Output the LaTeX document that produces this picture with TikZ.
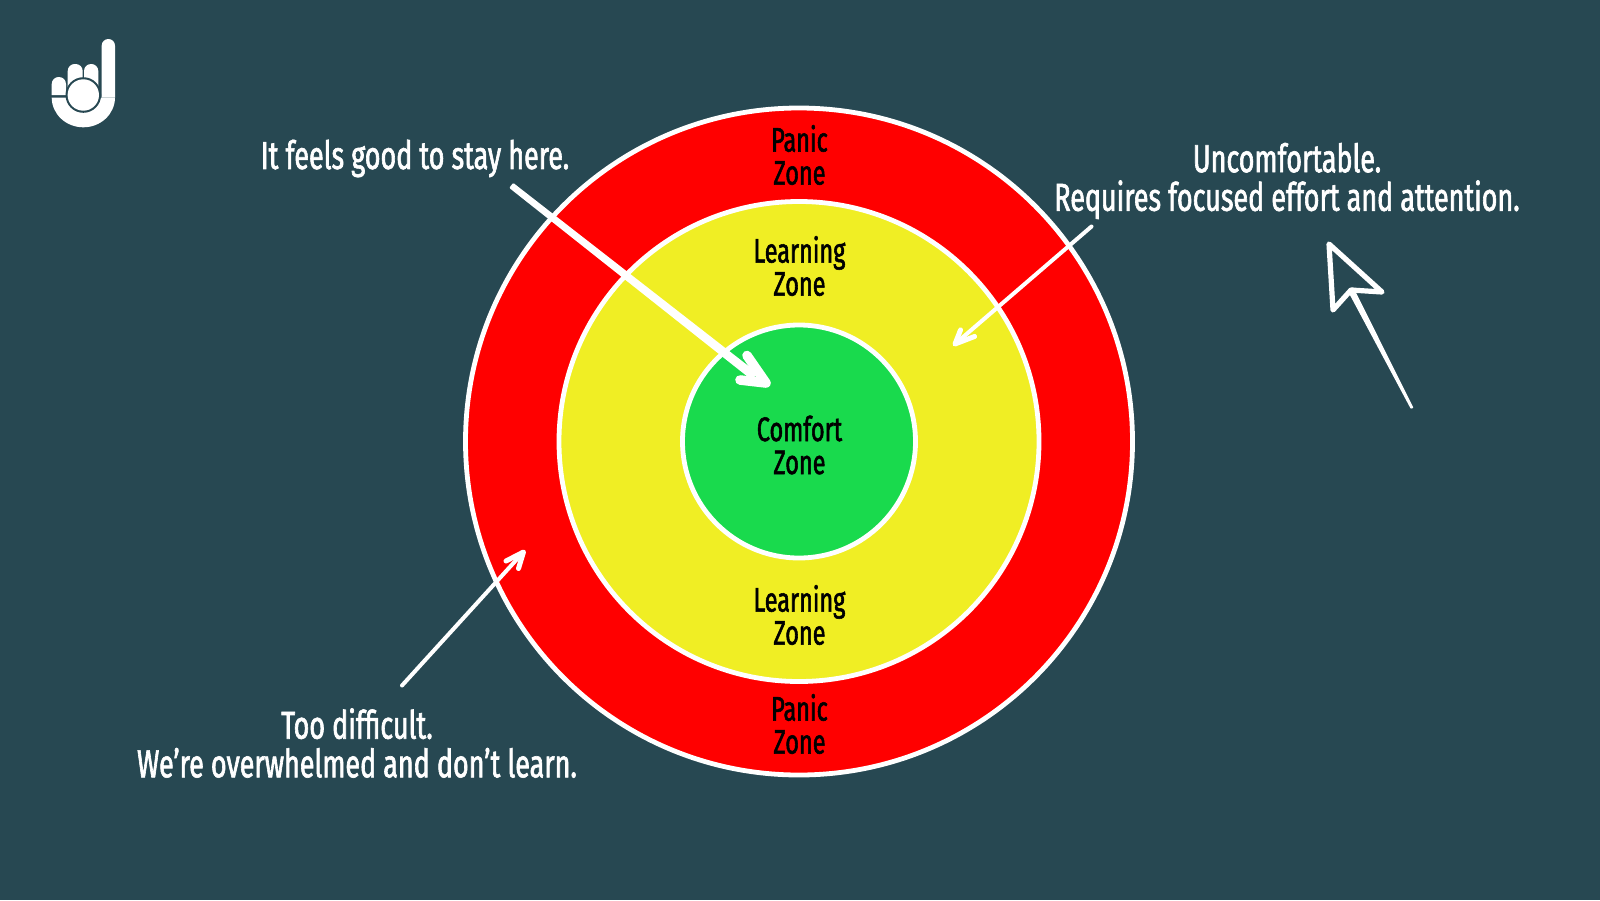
\documentclass[tikz,border=0pt]{standalone}
\usepackage{fontspec}
\setmainfont[FakeStretch=0.69,FakeBold=1.6]{Fira Sans}
\definecolor{bgteal}{HTML}{274852}
\definecolor{zonered}{HTML}{FF0000}
\definecolor{zoneyellow}{HTML}{F0EE24}
\definecolor{zonegreen}{HTML}{19DA4D}
\tikzset{
  zone/.style={circle,draw=white,line width=2.4pt,inner sep=0pt,minimum size=#1},
  zonetext/.style={text=black,align=center,font=\fontsize{17}{16.5}\selectfont,inner sep=0pt},
  note/.style={text=white,align=center,font=\fontsize{19.5}{19.3}\selectfont,inner sep=0pt},
  thinarrow/.style={draw=white,line width=2pt,line cap=round,line join=round},
  barbs/.style={draw=white,line width=2.5pt,line cap=round,line join=round},
  bigarrow/.style={draw=white,line width=4.8pt,line cap=round,line join=round},
  taper/.style={fill=white,draw=white,line width=1pt,line join=round},
  logowhite/.style={fill=white,draw=none}
}
\begin{document}
\begin{tikzpicture}[x=0.5pt,y=-0.5pt]
\useasboundingbox (0,0) rectangle (1600,900);
\fill[bgteal] (0,0) rectangle (1600,900);
% logo
\fill[logowhite] (101.7,97.5) {[rounded corners=3.3pt] -- (101.7,39) -- (115,39)} -- (115,97.5) -- cycle;
\fill[logowhite] (51.7,95.2) {[rounded corners=3.5pt] -- (51.7,77) -- (66,77)} -- (66,95.2) -- cycle;
\fill[logowhite] (67.7,95) {[rounded corners=3.5pt] -- (67.7,64) -- (82.7,64)} -- (82.7,95) -- cycle;
\fill[logowhite] (84,95) {[rounded corners=3.5pt] -- (84,64) -- (98.3,64)} -- (98.3,95) -- cycle;
\fill[logowhite] (51.7,97.5) -- (115,97.5) arc[start angle=0,end angle=-180,x radius=31.65,y radius=-29.8] -- cycle;
\node[circle,fill=bgteal,inner sep=0pt,minimum size=17.8pt] (logoring) at (83.3,95) {};
\node[circle,fill=white,inner sep=0pt,minimum size=15.7pt] (logodot) at (83.3,95) {};
% zones
\node[zone=333.5pt,fill=zonered] (panic) at (799,441.5) {};
\node[zone=240pt,fill=zoneyellow] (learning) at (799,441.5) {};
\node[zone=116.5pt,fill=zonegreen] (comfort) at (799,441.5) {};
% zone labels
\node[zonetext] (panictop) at (799.5,155) {Panic\\Zone};
\node[zonetext] (learntop) at (799.5,266) {Learning\\Zone};
\node[zonetext] (comfortlabel) at (799.5,445) {Comfort\\Zone};
\node[zonetext] (learnbot) at (799.5,615) {Learning\\Zone};
\node[zonetext] (panicbot) at (799.5,724) {Panic\\Zone};
% notes
\node[note] (good) at (415,158.5) {It feels good to stay here.};
\node[note] (uncomf) at (1287,181) {Uncomfortable.\\Requires focused effort and attention.};
\node[note] (hard) at (357,743) {Too difficult.\\We’re overwhelmed and don’t learn.};
% connectors
\coordinate (goodfrom) at (512,186);
\coordinate (goodtip) at (766,383);
\fill[taper] (510.65,187.74) -- (513.35,184.26) -- (756.1,373.2) -- (751.9,378.8) -- cycle;
\draw[bigarrow] (740,380) -- (goodtip) -- (747,355.5);
\coordinate (uncfrom) at (1091.5,226.5);
\coordinate (unctip) at (955,344);
\draw[thinarrow] (uncfrom) -- (unctip);
\draw[barbs] (960.5,330) -- (unctip) -- (974.5,336.5);
\coordinate (hardfrom) at (402,685.5);
\coordinate (hardtip) at (523.5,552);
\draw[thinarrow] (hardfrom) -- (hardtip);
\draw[barbs] (506,561) -- (hardtip) -- (518.5,568.5);
% cursor
\coordinate (curtip) at (1329,244);
\coordinate (curinner) at (1351,290);
\coordinate (curtail) at (1412,408);
\draw[draw=white,line width=2.6pt,line cap=round,line join=round] (curtip) -- (1382,292) -- (curinner) -- (1333,310) -- cycle;
\fill[taper,line width=0.6pt] (1349,292) -- (1353,288) -- (1412.6,407.5) -- (1411,408) -- cycle;
\end{tikzpicture}
\end{document}
